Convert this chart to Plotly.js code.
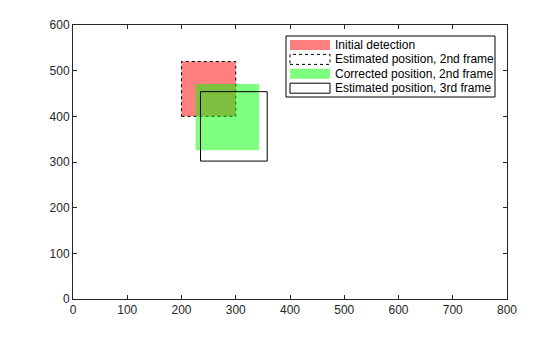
<!DOCTYPE html>
<html><head><meta charset="utf-8">
<script src="https://cdn.plot.ly/plotly-3.0.1.min.js"></script>
<style>html,body{margin:0;padding:0;background:#fff}</style>
</head><body><div id="chart" style="width:560px;height:337px"></div>
<script>
// Rectangles: [x, y, width, height]
const names = ["Initial detection", "Estimated position, 2nd frame", "Corrected position, 2nd frame", "Estimated position, 3rd frame"];
const rectInitial = [200, 400, 100, 120];
const rectEst2 = [200, 400, 100, 120];
const rectCorr2 = [226, 326, 117, 145];
const rectEst3 = [235, 302, 123, 152];
const xTicks = [0, 100, 200, 300, 400, 500, 600, 700, 800];
const yTicks = [0, 100, 200, 300, 400, 500, 600];

const FONT = 'Liberation Sans, Arial, Helvetica, sans-serif';
function corners(r) {
  const [x, y, w, h] = r;
  return {x: [x, x + w, x + w, x, x], y: [y, y, y + h, y + h, y]};
}
const styles = [
  {fill: 'toself', fillcolor: 'rgba(255,0,0,0.5)', line: {width: 0, color: 'rgba(0,0,0,0)'}},
  {fill: 'none', line: {width: 1, color: '#000', dash: 'dot'}},
  {fill: 'toself', fillcolor: 'rgba(0,255,0,0.5)', line: {width: 0, color: 'rgba(0,0,0,0)'}},
  {fill: 'none', line: {width: 1, color: '#000'}}
];
const rects = [rectInitial, rectEst2, rectCorr2, rectEst3];
const traces = rects.map((r, i) => Object.assign({
  type: 'scatter', mode: 'lines', name: names[i], hoverinfo: 'skip', showlegend: false
}, corners(r), styles[i]));

// Plot area in pixels (for placing the legend box, in paper coordinates)
const M = {l: 73, r: 53, t: 25, b: 38}, W = 560, H = 337;
const PW = W - M.l - M.r, PH = H - M.t - M.b;
const px = v => (v - M.l) / PW;
const py = v => (H - M.b - v) / PH;

// Legend box geometry (pixels)
const LG = {left: 286, right: 495, top: 36, bottom: 97, swL: 290, swR: 330, row0: 45, rowGap: 14.4, swH: 10, textX: 333};
const shapes = [{type: 'rect', xref: 'paper', yref: 'paper', x0: px(LG.left), x1: px(LG.right), y0: py(LG.bottom), y1: py(LG.top),
  fillcolor: '#fff', line: {color: '#000', width: 1}, layer: 'above'}];
const annotations = [];
names.forEach((n, i) => {
  const cy = LG.row0 + i * LG.rowGap;
  const st = styles[i];
  shapes.push({type: 'rect', xref: 'paper', yref: 'paper', layer: 'above',
    x0: px(LG.swL), x1: px(LG.swR), y0: py(cy + LG.swH / 2), y1: py(cy - LG.swH / 2),
    fillcolor: st.fill === 'toself' ? st.fillcolor : 'rgba(0,0,0,0)',
    line: st.fill === 'toself' ? {width: 0} : {width: 1, color: '#000', dash: st.line.dash || 'solid'}});
  annotations.push({xref: 'paper', yref: 'paper', x: px(LG.textX), y: py(cy), xanchor: 'left', yanchor: 'middle',
    text: n, showarrow: false, font: {family: FONT, size: 12, color: '#000'}});
});

const axisCommon = {
  showgrid: false, zeroline: false, showline: true, mirror: 'ticks',
  linecolor: '#262626', linewidth: 1, ticks: 'inside', ticklen: 4,
  tickcolor: '#262626', tickfont: {family: FONT, size: 12, color: '#262626'}
};
const layout = {
  width: W, height: H, margin: M,
  paper_bgcolor: '#fff', plot_bgcolor: '#fff',
  font: {family: FONT, size: 12, color: '#000'},
  xaxis: Object.assign({range: [0, 800], tickvals: xTicks, ticktext: xTicks.map(String)}, axisCommon),
  yaxis: Object.assign({range: [0, 600], tickvals: yTicks, ticktext: yTicks.map(String)}, axisCommon),
  showlegend: false,
  shapes: shapes, annotations: annotations
};
Plotly.newPlot('chart', traces, layout, {staticPlot: true, displayModeBar: false});
</script></body></html>
